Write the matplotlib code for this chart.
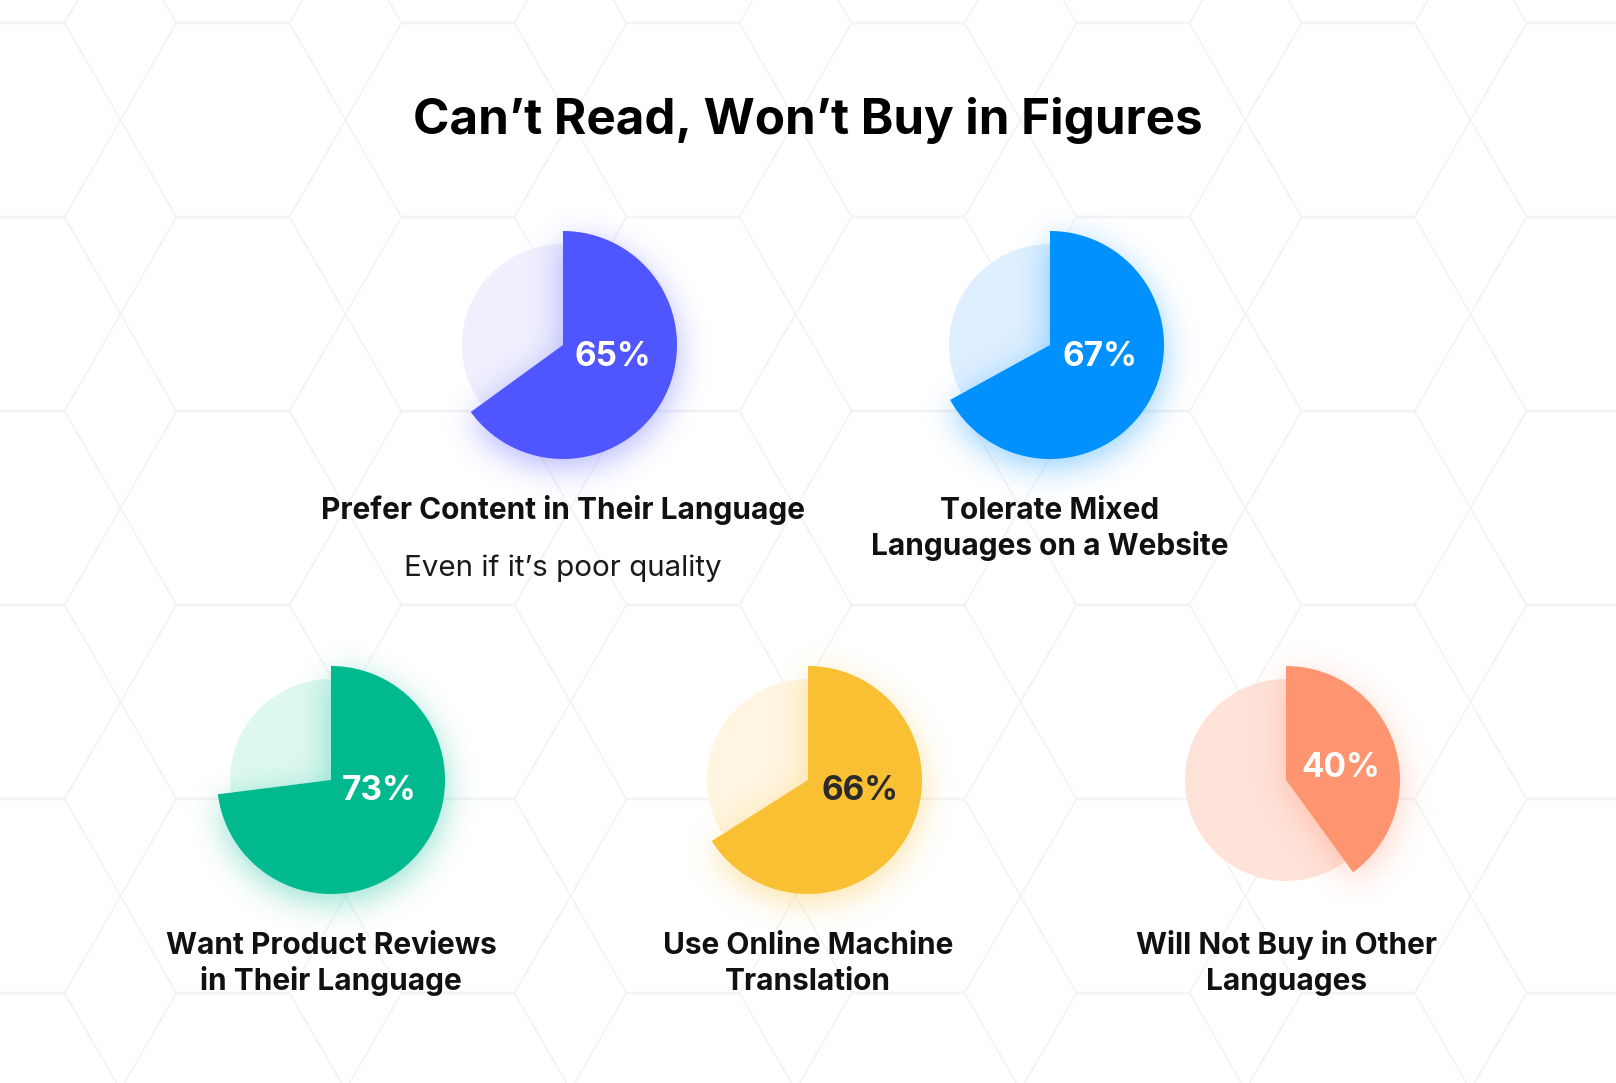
import matplotlib.pyplot as plt
import numpy as np
from matplotlib.patches import RegularPolygon

# data
title = "Can’t Read, Won’t Buy in Figures"
values = [65, 67, 73, 66, 40]
labels = ["Prefer Content in Their Language",
          "Tolerate Mixed\nLanguages on a Website",
          "Want Product Reviews\nin Their Language",
          "Use Online Machine\nTranslation",
          "Will Not Buy in Other\nLanguages"]
subtitles = ["Even if it’s poor quality", "", "", "", ""]
colors = ["#4F55FF", "#0091FF", "#00B98E", "#F8C032", "#FF9470"]
light_colors = ["#EFEFFD", "#DEEFFF", "#DDF8F0", "#FFF5E0", "#FFE2D8"]
pct_colors = ["white", "white", "white", "#2A2A2A", "white"]

# layout (pixels, y down)
W, H = 1616, 1083
centers = [(563, 345), (1050, 345), (331, 780), (808, 780), (1286, 780)]
pct_offsets = [(50, 12), (50, 12), (48, 11), (52, 11), (55, -12)]
R_BIG, R_SMALL = 114, 101

plt.rcParams['font.family'] = ['Inter', 'DejaVu Sans']

fig = plt.figure(figsize=(W / 100, H / 100), dpi=100)
fig.patch.set_facecolor('white')
ax = fig.add_axes([0, 0, 1, 1])

# faint hexagon background
side = 112.5
for hx in np.arange(233 - 225 * 2, W + 225, 225):
    for hy in np.arange(120 - 194 * 1, H + 194, 194):
        ax.add_patch(RegularPolygon((hx, hy), 6, radius=side, orientation=np.pi / 6,
                                    facecolor='none', edgecolor='#F3F3F5', lw=1.2, zorder=0))


def blur(a, sigma):
    k = np.arange(-3 * sigma, 3 * sigma + 1)
    g = np.exp(-k ** 2 / (2 * sigma ** 2))
    g /= g.sum()
    a = np.apply_along_axis(lambda m: np.convolve(m, g, mode='same'), 0, a)
    a = np.apply_along_axis(lambda m: np.convolve(m, g, mode='same'), 1, a)
    return a


for i, v in enumerate(values):
    cx, cy = centers[i]
    # light remainder
    ax.pie([v, 100 - v], colors=['none', light_colors[i]], radius=R_SMALL, center=(cx, cy),
           startangle=-90, counterclock=True, wedgeprops=dict(linewidth=0, zorder=1))
    # soft glow around the highlighted slice
    S = 200
    yy, xx = np.mgrid[-S:S, -S:S].astype(float)
    dy = yy - 8
    ang = np.mod(np.arctan2(xx, -dy), 2 * np.pi)
    mask = ((xx ** 2 + dy ** 2) <= R_BIG ** 2) & (ang <= v / 100 * 2 * np.pi)
    glow = blur(mask.astype(float), 16)
    rgba = np.zeros((2 * S, 2 * S, 4))
    rgba[..., :3] = plt.matplotlib.colors.to_rgb(colors[i])
    rgba[..., 3] = np.clip(glow * 0.42, 0, 1)
    ax.imshow(rgba, extent=(cx - S, cx + S, cy + S, cy - S), zorder=2, interpolation='bilinear')
    # highlighted slice
    ax.pie([v, 100 - v], colors=[colors[i], 'none'], radius=R_BIG, center=(cx, cy),
           startangle=-90, counterclock=True, wedgeprops=dict(linewidth=0, zorder=3))
    ox, oy = pct_offsets[i]
    ax.text(cx + ox, cy + oy, f"{v}%", ha='center', va='center', fontsize=24,
            fontweight='bold', color=pct_colors[i], zorder=4)
    # caption, one line at a time
    for j, line in enumerate(labels[i].split("\n")):
        ax.text(cx, cy + 174 + 36 * j, line, ha='center', va='baseline', fontsize=21.5,
                fontweight='bold', color='#111111', zorder=4)
    if subtitles[i]:
        ax.text(cx, cy + 231, subtitles[i], ha='center', va='baseline', fontsize=21.3,
                color='#1A1A1A', zorder=4)

ax.text(W / 2, 134, title, ha='center', va='baseline', fontsize=35.5, fontweight='bold',
        color='black', zorder=4)

ax.set_xlim(0, W)
ax.set_ylim(H, 0)
ax.set_aspect('equal')
ax.axis('off')

fig.savefig('out.png', dpi=100, facecolor='white')
